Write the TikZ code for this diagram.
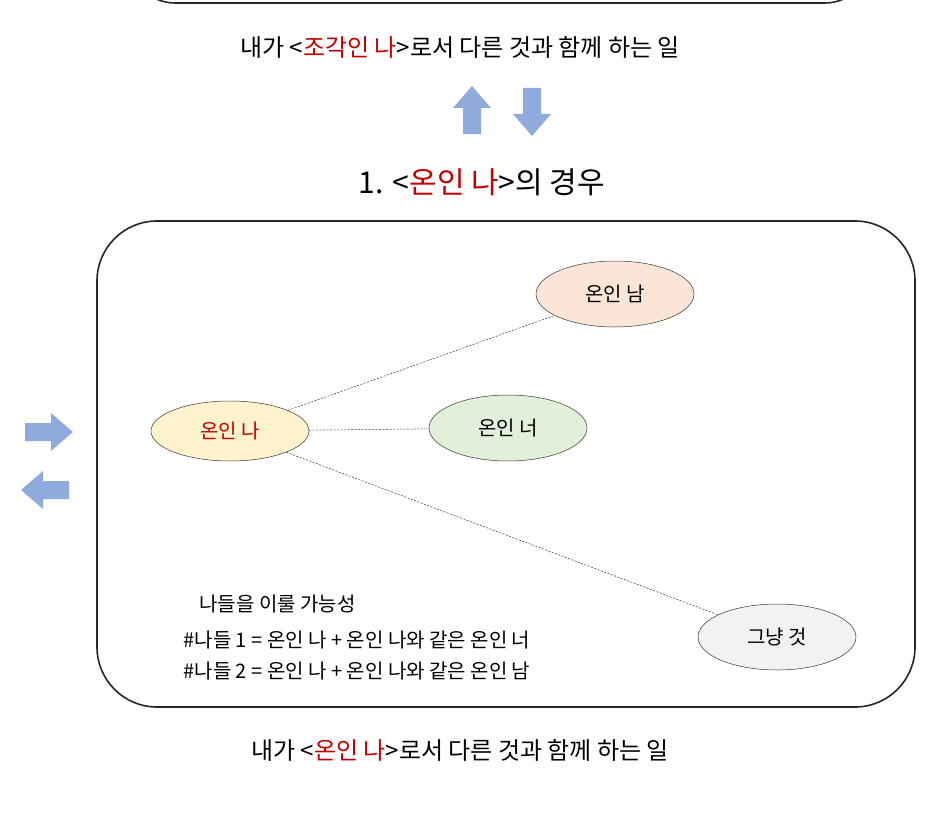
\documentclass[tikz,border=0pt]{standalone}
\usepackage{fontspec}
\setmainfont{Noto Sans CJK KR}
\usetikzlibrary{shapes.geometric}
\definecolor{hred}{RGB}{192,0,0}
\definecolor{barrow}{RGB}{143,170,220}
\begin{document}
\begin{tikzpicture}[x=1pt,y=-1pt]
	\tikzset{
		bubble/.style={ellipse,draw=black!80,line width=0.5pt,minimum width=158pt,minimum height=64pt,font=\fontsize{20}{24}\selectfont},
		link/.style={dashed,dash pattern=on 2pt off 1.5pt,line width=0.5pt,black!80},
		barrowpic/.pic={\fill[barrow] (-24,-9) -- (2,-9) -- (2,-19) -- (24,0) -- (2,19) -- (2,9) -- (-24,9) -- cycle;},
		caption/.style={font=\fontsize{24}{28}\selectfont},
		listtext/.style={anchor=west,font=\fontsize{20}{24}\selectfont}
	}
	\useasboundingbox (0,0) rectangle (952,824);
	% top box (bottom part only)
	\draw[line width=1.6pt,black!85,rounded corners=45pt] (130,-200) rectangle (870,3);
	\node[caption] (topcap) at (460,47) {내가 <\textcolor{hred}{조각인 나}>로서 다른 것과 함께 하는 일};
	\pic[rotate=90] (up) at (472,110) {barrowpic};
	\pic[rotate=-90] (down) at (532,112) {barrowpic};
	\node[font=\fontsize{30}{34}\selectfont] (head) at (482,182) {1. <\textcolor{hred}{온인 나}>의 경우};
	% main box
	\draw[line width=1.6pt,black!85,rounded corners=60pt] (97,221) rectangle (915,707);
	\pic (right) at (49,432) {barrowpic};
	\pic[rotate=180] (left) at (45,490) {barrowpic};
	% bubbles
	\node[bubble,fill={rgb,255:red,251;green,229;blue,214},minimum height=66pt] (nam) at (615,294) {온인 남};
	\node[bubble,fill={rgb,255:red,255;green,242;blue,204},minimum height=60pt,text=hred] (na) at (230,431) {온인 나};
	\node[bubble,fill={rgb,255:red,226;green,240;blue,217},minimum height=66pt] (neo) at (508,428) {온인 너};
	\node[bubble,fill={rgb,255:red,242;green,242;blue,242},minimum height=66pt] (geot) at (777,637) {그냥 것};
	\draw[link] (na) -- (nam);
	\draw[link] (na) -- (neo);
	\draw[link] (na) -- (geot);
	% possibilities
	\node[listtext] (poss) at (196,604) {나들을 이룰 가능성};
	\node[listtext] (one) at (180,640) {\#나들 1 = 온인 나 + 온인 나와 같은 온인 너};
	\node[listtext] (two) at (180,671) {\#나들 2 = 온인 나 + 온인 나와 같은 온인 남};
	\node[caption] (botcap) at (460,750) {내가 <\textcolor{hred}{온인 나}>로서 다른 것과 함께 하는 일};
\end{tikzpicture}
\end{document}
